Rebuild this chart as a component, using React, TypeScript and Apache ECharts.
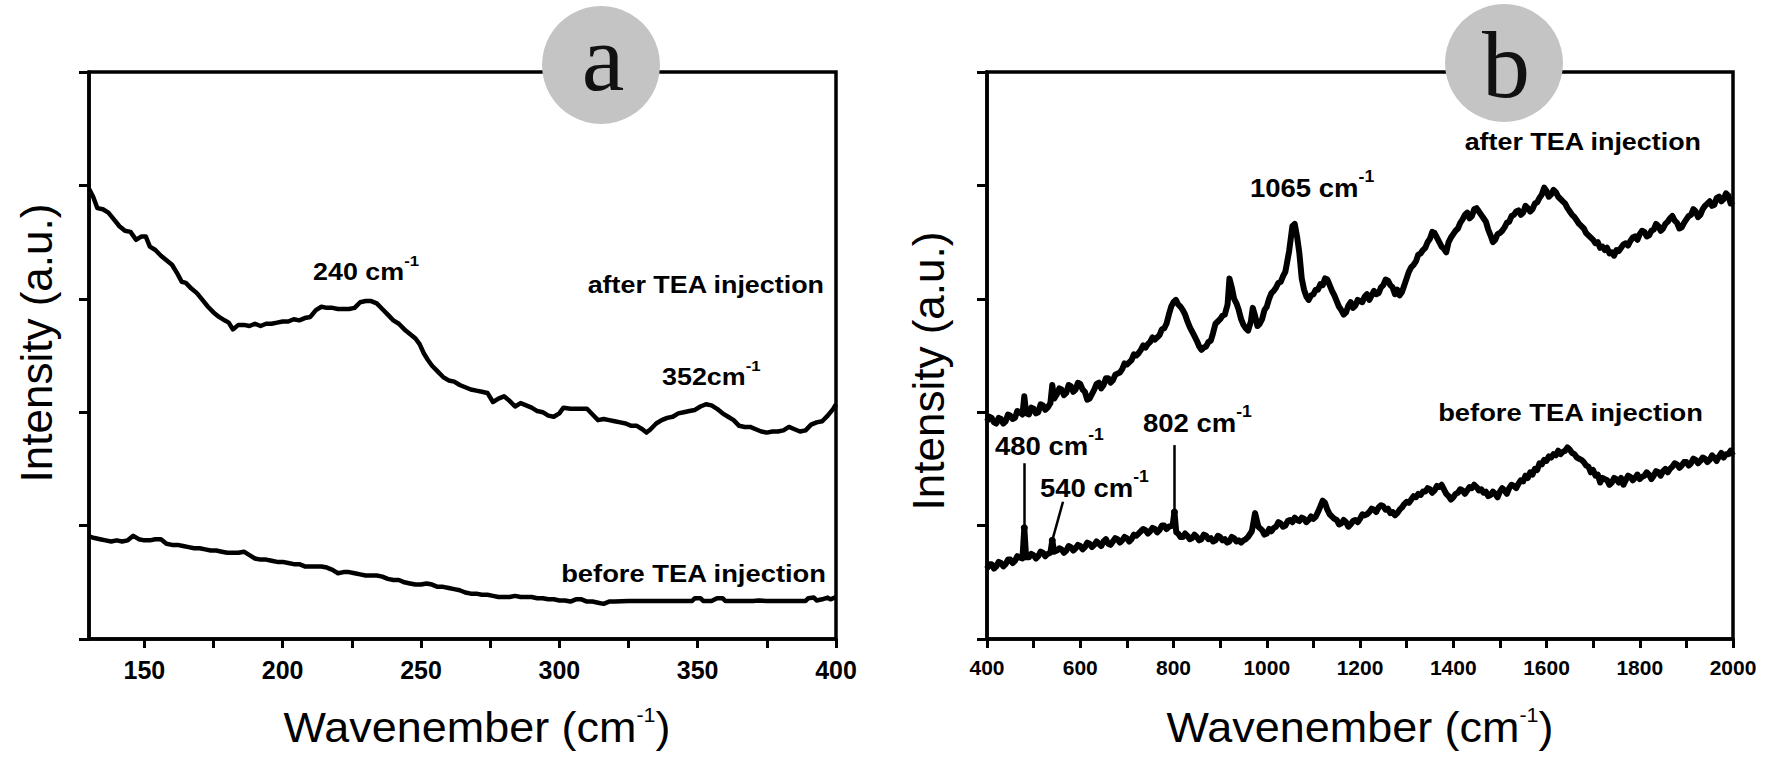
import React, { useEffect, useRef } from "react";
import * as echarts from "echarts";

// ---- panel (a): low-wavenumber Raman spectra ----
const lowAfter: number[][] = [
  [130, 3.97], [131.5, 3.9], [133, 3.8], [135, 3.79], [137, 3.76], [139, 3.7], [141, 3.64], [143, 3.6],
  [145, 3.59], [147, 3.52], [149, 3.55], [150.5, 3.55], [152, 3.46], [154, 3.43], [156, 3.38], [158, 3.34],
  [160, 3.3], [162, 3.22], [163.5, 3.15], [165, 3.14], [167, 3.09], [169, 3.05], [171, 2.99], [173, 2.93],
  [175, 2.88], [177, 2.84], [179, 2.81], [180.5, 2.79], [182, 2.73], [184, 2.77], [186, 2.77], [188, 2.76],
  [190, 2.78], [192, 2.76], [194, 2.78], [196, 2.78], [198, 2.79], [200, 2.8], [202, 2.8], [204, 2.82],
  [206, 2.81], [208, 2.83], [210, 2.84], [212, 2.9], [214, 2.93], [216, 2.92], [218, 2.92], [220, 2.91],
  [222, 2.91], [224, 2.91], [226, 2.92], [228, 2.97], [230, 2.98], [232, 2.98], [234, 2.96], [236, 2.91],
  [238, 2.86], [240, 2.81], [242, 2.78], [244, 2.73], [246, 2.69], [248, 2.65], [249.5, 2.6], [251, 2.52],
  [252.5, 2.46], [254, 2.41], [256, 2.36], [258, 2.31], [260, 2.28], [262, 2.27], [264, 2.24], [266, 2.22],
  [268, 2.2], [270, 2.19], [272, 2.18], [274, 2.17], [276, 2.09], [278, 2.12], [280, 2.14], [282, 2.1],
  [284, 2.05], [286, 2.08], [288, 2.06], [290, 2.04], [292, 2.01], [294, 2.0], [296, 1.97], [298, 1.96],
  [300, 1.99], [301.5, 2.04], [304, 2.03], [306, 2.03], [308, 2.03], [310, 2.03], [312, 1.98], [314, 1.93],
  [316, 1.94], [318, 1.93], [320, 1.92], [322, 1.91], [324, 1.9], [326, 1.88], [328, 1.88], [330, 1.85],
  [331.5, 1.82], [333, 1.85], [335, 1.9], [337, 1.93], [339, 1.95], [341, 1.96], [343, 1.99], [345, 2.0],
  [347, 2.01], [349, 2.02], [351, 2.05], [353, 2.07], [355, 2.06], [357, 2.03], [359, 1.99], [361, 1.96],
  [363, 1.93], [365, 1.88], [367, 1.87], [369, 1.87], [371, 1.85], [373, 1.83], [375, 1.82], [377, 1.83],
  [379, 1.83], [381, 1.84], [383, 1.87], [385, 1.85], [387, 1.83], [389, 1.84], [391, 1.89], [393, 1.91],
  [395, 1.92], [397, 1.97], [399, 2.03], [400, 2.07],
];

const lowBefore: number[][] = [
  [130, 0.905], [132, 0.89], [134, 0.88], [136, 0.87], [138, 0.86], [140, 0.87], [142, 0.86], [144, 0.87],
  [146, 0.91], [148, 0.88], [150, 0.87], [152, 0.87], [154, 0.88], [156, 0.88], [158, 0.84], [160, 0.83],
  [162, 0.83], [164, 0.82], [166, 0.81], [168, 0.8], [170, 0.8], [172, 0.79], [174, 0.78], [176, 0.78],
  [178, 0.77], [180, 0.76], [182, 0.76], [184, 0.76], [186, 0.77], [188, 0.74], [190, 0.71], [192, 0.7],
  [194, 0.7], [196, 0.69], [198, 0.68], [200, 0.68], [202, 0.67], [204, 0.66], [206, 0.66], [208, 0.64],
  [210, 0.64], [212, 0.64], [214, 0.64], [216, 0.63], [218, 0.61], [220, 0.58], [222, 0.59], [224, 0.59],
  [226, 0.58], [228, 0.57], [230, 0.56], [232, 0.56], [234, 0.56], [236, 0.55], [238, 0.53], [240, 0.52],
  [242, 0.52], [244, 0.5], [246, 0.49], [248, 0.48], [250, 0.48], [252, 0.49], [254, 0.48], [256, 0.46],
  [258, 0.46], [260, 0.45], [262, 0.44], [264, 0.43], [266, 0.41], [268, 0.4], [270, 0.4], [272, 0.39],
  [274, 0.39], [276, 0.38], [278, 0.37], [280, 0.37], [282, 0.37], [284, 0.38], [286, 0.37], [288, 0.37],
  [290, 0.37], [292, 0.36], [294, 0.36], [296, 0.35], [298, 0.35], [300, 0.34], [302, 0.34], [304, 0.33],
  [306, 0.35], [308, 0.35], [310, 0.33], [312, 0.33], [314, 0.32], [316, 0.31], [318, 0.33], [320, 0.33],
  [325, 0.335], [330, 0.335], [335, 0.335], [340, 0.335], [345, 0.335], [348, 0.335], [349, 0.36],
  [351, 0.36], [352, 0.335], [355, 0.335], [357, 0.36], [359, 0.36], [360, 0.335], [365, 0.335],
  [370, 0.335], [372, 0.34], [375, 0.335], [380, 0.335], [385, 0.335], [389, 0.335], [390, 0.36],
  [392, 0.365], [393, 0.34], [395, 0.35], [397, 0.365], [398, 0.35], [400, 0.37],
];

// ---- panel (b): full-range Raman spectra ----
const highAfter: number[][] = [
  [400, 1.92], [405, 1.96], [410, 1.95], [415, 1.91], [420, 1.9], [425, 1.95], [430, 1.94], [435, 1.9],
  [440, 1.92], [445, 1.98], [450, 1.97], [455, 1.94], [460, 1.95], [465, 2.01], [470, 2.0], [476, 1.98],
  [480, 2.14], [484, 1.99], [490, 1.98], [495, 2.04], [500, 2.03], [505, 1.99], [510, 2.0], [515, 2.07],
  [520, 2.06], [525, 2.02], [530, 2.04], [536, 2.08], [540, 2.24], [544, 2.12], [550, 2.16], [555, 2.21],
  [560, 2.2], [565, 2.15], [570, 2.17], [575, 2.24], [580, 2.23], [585, 2.18], [590, 2.2], [595, 2.26],
  [600, 2.25], [605, 2.2], [610, 2.18], [615, 2.11], [620, 2.12], [625, 2.16], [630, 2.2], [635, 2.25],
  [640, 2.26], [645, 2.21], [650, 2.24], [655, 2.3], [660, 2.3], [665, 2.26], [670, 2.28], [675, 2.33],
  [680, 2.34], [685, 2.35], [690, 2.38], [695, 2.43], [700, 2.42], [705, 2.44], [710, 2.46], [715, 2.51],
  [720, 2.5], [725, 2.52], [730, 2.55], [735, 2.59], [740, 2.57], [745, 2.6], [750, 2.62], [755, 2.66],
  [760, 2.64], [765, 2.66], [770, 2.68], [775, 2.73], [780, 2.74], [785, 2.78], [790, 2.86], [795, 2.93],
  [800, 2.97], [805, 2.99], [810, 2.95], [815, 2.93], [820, 2.9], [825, 2.86], [830, 2.8], [835, 2.75],
  [840, 2.71], [845, 2.67], [850, 2.63], [855, 2.58], [860, 2.55], [865, 2.57], [870, 2.58], [875, 2.62],
  [880, 2.63], [885, 2.7], [890, 2.78], [895, 2.8], [900, 2.82], [905, 2.85], [910, 2.86], [916, 2.95],
  [920, 3.18], [925, 3.1], [930, 3.0], [935, 2.96], [940, 2.9], [945, 2.82], [950, 2.77], [955, 2.74],
  [960, 2.72], [966, 2.8], [970, 2.92], [975, 2.85], [980, 2.76], [985, 2.78], [990, 2.82], [995, 2.9],
  [1000, 2.93], [1005, 3.0], [1010, 3.05], [1015, 3.07], [1020, 3.1], [1025, 3.14], [1030, 3.15],
  [1035, 3.2], [1040, 3.24], [1048, 3.42], [1055, 3.64], [1060, 3.66], [1065, 3.55], [1070, 3.4],
  [1075, 3.18], [1080, 3.08], [1085, 3.02], [1090, 2.99], [1095, 3.03], [1100, 3.04], [1105, 3.08],
  [1110, 3.08], [1115, 3.13], [1120, 3.12], [1125, 3.18], [1130, 3.17], [1135, 3.12], [1140, 3.07],
  [1145, 3.03], [1150, 2.98], [1155, 2.93], [1160, 2.9], [1165, 2.86], [1170, 2.88], [1175, 2.94],
  [1180, 2.97], [1185, 2.92], [1190, 2.94], [1195, 2.99], [1200, 2.98], [1205, 2.97], [1210, 3.02],
  [1215, 3.04], [1220, 2.99], [1225, 3.03], [1230, 3.07], [1235, 3.04], [1240, 3.05], [1245, 3.1],
  [1250, 3.12], [1255, 3.17], [1260, 3.16], [1265, 3.12], [1270, 3.1], [1275, 3.04], [1280, 3.08],
  [1285, 3.03], [1290, 3.06], [1295, 3.12], [1300, 3.18], [1305, 3.24], [1310, 3.28], [1315, 3.3],
  [1320, 3.33], [1325, 3.39], [1330, 3.4], [1335, 3.43], [1340, 3.45], [1345, 3.5], [1350, 3.53],
  [1355, 3.59], [1360, 3.58], [1365, 3.54], [1370, 3.5], [1375, 3.46], [1380, 3.44], [1385, 3.41],
  [1390, 3.5], [1395, 3.54], [1400, 3.57], [1405, 3.6], [1410, 3.62], [1415, 3.67], [1420, 3.7],
  [1425, 3.74], [1430, 3.76], [1435, 3.71], [1440, 3.73], [1445, 3.79], [1450, 3.8], [1455, 3.77],
  [1460, 3.74], [1465, 3.71], [1470, 3.68], [1475, 3.61], [1480, 3.56], [1485, 3.5], [1490, 3.52],
  [1495, 3.57], [1500, 3.58], [1505, 3.6], [1510, 3.63], [1515, 3.67], [1520, 3.68], [1525, 3.73],
  [1530, 3.74], [1535, 3.77], [1540, 3.78], [1545, 3.74], [1550, 3.76], [1555, 3.82], [1560, 3.8],
  [1565, 3.77], [1570, 3.79], [1575, 3.84], [1580, 3.85], [1585, 3.89], [1590, 3.92], [1595, 3.98],
  [1600, 3.95], [1605, 3.9], [1610, 3.92], [1615, 3.96], [1620, 3.94], [1625, 3.9], [1630, 3.88],
  [1635, 3.86], [1640, 3.84], [1645, 3.8], [1650, 3.77], [1655, 3.74], [1660, 3.72], [1665, 3.69],
  [1670, 3.66], [1675, 3.64], [1680, 3.62], [1685, 3.58], [1690, 3.56], [1695, 3.54], [1700, 3.52],
  [1705, 3.49], [1710, 3.5], [1715, 3.45], [1720, 3.46], [1725, 3.43], [1730, 3.45], [1735, 3.4],
  [1740, 3.41], [1745, 3.38], [1750, 3.43], [1755, 3.42], [1760, 3.45], [1765, 3.48], [1770, 3.49],
  [1775, 3.47], [1780, 3.51], [1785, 3.54], [1790, 3.55], [1795, 3.52], [1800, 3.57], [1805, 3.6],
  [1810, 3.59], [1815, 3.55], [1820, 3.56], [1825, 3.6], [1830, 3.61], [1835, 3.66], [1840, 3.64],
  [1845, 3.6], [1850, 3.62], [1855, 3.66], [1860, 3.68], [1865, 3.71], [1870, 3.73], [1875, 3.69],
  [1880, 3.67], [1885, 3.62], [1890, 3.63], [1895, 3.67], [1900, 3.7], [1905, 3.73], [1910, 3.74],
  [1915, 3.79], [1920, 3.77], [1925, 3.72], [1930, 3.74], [1935, 3.79], [1940, 3.82], [1945, 3.84],
  [1950, 3.86], [1955, 3.82], [1960, 3.83], [1965, 3.89], [1970, 3.9], [1975, 3.86], [1980, 3.88],
  [1985, 3.93], [1990, 3.91], [1995, 3.84], [2000, 3.86],
];

const highBefore: number[][] = [
  [400, 0.62], [405, 0.66], [410, 0.66], [415, 0.62], [420, 0.64], [425, 0.68], [430, 0.67], [435, 0.64],
  [440, 0.66], [445, 0.7], [450, 0.7], [455, 0.67], [460, 0.69], [465, 0.73], [470, 0.72], [476, 0.71],
  [480, 0.98], [484, 0.72], [490, 0.72], [495, 0.75], [500, 0.74], [505, 0.71], [510, 0.73], [515, 0.77],
  [520, 0.76], [525, 0.73], [530, 0.75], [536, 0.76], [540, 0.87], [544, 0.77], [550, 0.78], [555, 0.8],
  [560, 0.79], [565, 0.76], [570, 0.78], [575, 0.82], [580, 0.81], [585, 0.78], [590, 0.8], [595, 0.83],
  [600, 0.82], [605, 0.79], [610, 0.81], [615, 0.85], [620, 0.84], [625, 0.81], [630, 0.83], [635, 0.86],
  [640, 0.84], [645, 0.82], [650, 0.86], [655, 0.88], [660, 0.84], [665, 0.83], [670, 0.86], [675, 0.89],
  [680, 0.88], [685, 0.85], [690, 0.87], [695, 0.9], [700, 0.89], [705, 0.86], [710, 0.88], [715, 0.92],
  [720, 0.91], [725, 0.93], [730, 0.95], [735, 0.97], [740, 0.96], [745, 0.93], [750, 0.95], [755, 0.98],
  [760, 0.97], [765, 0.94], [770, 0.96], [775, 1.0], [780, 1.0], [785, 0.97], [790, 0.99], [798, 1.0],
  [802, 1.12], [806, 0.94], [810, 0.93], [815, 0.9], [820, 0.9], [825, 0.93], [830, 0.91], [835, 0.88],
  [840, 0.89], [845, 0.92], [850, 0.9], [855, 0.87], [860, 0.88], [865, 0.92], [870, 0.91], [875, 0.88],
  [880, 0.89], [885, 0.86], [890, 0.87], [895, 0.91], [900, 0.9], [905, 0.87], [910, 0.88], [915, 0.85],
  [920, 0.86], [925, 0.9], [930, 0.89], [935, 0.86], [940, 0.87], [945, 0.85], [950, 0.87], [955, 0.88],
  [960, 0.9], [968, 0.95], [975, 1.11], [982, 0.99], [990, 0.96], [995, 0.92], [1000, 0.93], [1005, 0.97],
  [1010, 0.95], [1015, 0.98], [1020, 0.99], [1025, 1.03], [1030, 1.02], [1035, 0.99], [1040, 1.0],
  [1045, 1.04], [1050, 1.05], [1055, 1.03], [1060, 1.07], [1065, 1.05], [1070, 1.04], [1075, 1.07],
  [1080, 1.06], [1085, 1.03], [1090, 1.05], [1095, 1.08], [1100, 1.06], [1105, 1.08], [1110, 1.12],
  [1115, 1.17], [1120, 1.22], [1125, 1.2], [1130, 1.14], [1135, 1.1], [1140, 1.08], [1145, 1.06],
  [1150, 1.05], [1155, 1.01], [1160, 1.02], [1165, 1.05], [1170, 1.03], [1175, 0.99], [1180, 1.01],
  [1185, 1.04], [1190, 1.05], [1195, 1.03], [1200, 1.06], [1205, 1.1], [1210, 1.09], [1215, 1.1],
  [1220, 1.12], [1225, 1.15], [1230, 1.14], [1235, 1.12], [1240, 1.16], [1245, 1.18], [1250, 1.17],
  [1255, 1.14], [1260, 1.15], [1265, 1.11], [1270, 1.12], [1275, 1.09], [1280, 1.11], [1285, 1.14],
  [1290, 1.16], [1295, 1.19], [1300, 1.21], [1305, 1.2], [1310, 1.23], [1315, 1.26], [1320, 1.25],
  [1325, 1.28], [1330, 1.27], [1335, 1.3], [1340, 1.3], [1345, 1.33], [1350, 1.32], [1355, 1.29],
  [1360, 1.31], [1365, 1.35], [1370, 1.34], [1375, 1.36], [1380, 1.32], [1385, 1.28], [1390, 1.26],
  [1395, 1.23], [1400, 1.25], [1405, 1.28], [1410, 1.29], [1415, 1.32], [1420, 1.31], [1425, 1.28],
  [1430, 1.31], [1435, 1.34], [1440, 1.33], [1445, 1.36], [1450, 1.34], [1455, 1.31], [1460, 1.32],
  [1465, 1.29], [1470, 1.3], [1475, 1.26], [1480, 1.27], [1485, 1.3], [1490, 1.28], [1495, 1.25],
  [1500, 1.3], [1505, 1.33], [1510, 1.31], [1515, 1.28], [1520, 1.33], [1525, 1.36], [1530, 1.35],
  [1535, 1.33], [1540, 1.37], [1545, 1.4], [1550, 1.39], [1555, 1.44], [1560, 1.42], [1565, 1.47],
  [1570, 1.45], [1575, 1.5], [1580, 1.49], [1585, 1.55], [1590, 1.54], [1595, 1.58], [1600, 1.57],
  [1605, 1.61], [1610, 1.6], [1615, 1.63], [1620, 1.62], [1625, 1.66], [1630, 1.63], [1635, 1.65],
  [1640, 1.66], [1645, 1.69], [1650, 1.67], [1655, 1.64], [1660, 1.63], [1665, 1.6], [1670, 1.59],
  [1675, 1.58], [1680, 1.56], [1685, 1.53], [1690, 1.52], [1695, 1.47], [1700, 1.49], [1705, 1.44],
  [1710, 1.45], [1715, 1.38], [1720, 1.42], [1725, 1.41], [1730, 1.4], [1735, 1.36], [1740, 1.38],
  [1745, 1.42], [1750, 1.41], [1755, 1.38], [1760, 1.42], [1765, 1.36], [1770, 1.4], [1775, 1.44],
  [1780, 1.43], [1785, 1.4], [1790, 1.42], [1795, 1.45], [1800, 1.41], [1805, 1.43], [1810, 1.44],
  [1815, 1.47], [1820, 1.45], [1825, 1.41], [1830, 1.44], [1835, 1.48], [1840, 1.47], [1845, 1.44],
  [1850, 1.48], [1855, 1.5], [1860, 1.47], [1865, 1.5], [1870, 1.52], [1875, 1.55], [1880, 1.54],
  [1885, 1.51], [1890, 1.53], [1895, 1.56], [1900, 1.56], [1905, 1.53], [1910, 1.55], [1915, 1.59],
  [1920, 1.58], [1925, 1.55], [1930, 1.57], [1935, 1.6], [1940, 1.59], [1945, 1.56], [1950, 1.58],
  [1955, 1.62], [1960, 1.6], [1965, 1.57], [1970, 1.61], [1975, 1.64], [1980, 1.6], [1985, 1.63],
  [1990, 1.63], [1995, 1.66], [2000, 1.62],
];

// leader lines from the peak labels down to the peaks: [x1, y1, x2, y2]
const peakPointers: number[][] = [
  [480, 1.55, 480, 0.98],
  [563, 1.21, 540, 0.87],
  [802, 1.71, 802, 1.12],
];

// axis ticks and labels
const lowTicks = [150, 175, 200, 225, 250, 275, 300, 325, 350, 375, 400];
const lowLabels = [150, 200, 250, 300, 350, 400];
const highTicks = [400, 500, 600, 700, 800, 900, 1000, 1100, 1200, 1300, 1400, 1500, 1600, 1700, 1800, 1900, 2000];
const highLabels = [400, 600, 800, 1000, 1200, 1400, 1600, 1800, 2000];

const SANS = "'Liberation Sans', Arial, sans-serif";
const SERIF = "'Liberation Serif', 'Times New Roman', serif";

function supText(
  main: string,
  x: number,
  y: number,
  size: number,
  opts: { align?: string; scaleX?: number; weight?: string } = {}
) {
  const weight = opts.weight ?? "bold";
  return {
    type: "text",
    x,
    y,
    scaleX: opts.scaleX ?? 1,
    z: 60,
    style: {
      text: `{m|${main}}{s|-1}`,
      align: opts.align ?? "left",
      verticalAlign: "middle",
      fill: "#000",
      rich: {
        m: { fontSize: size, fontWeight: weight, fontFamily: SANS, lineHeight: size * 1.55, fill: "#000" },
        s: { fontSize: Math.round(size * 0.62), fontWeight: weight, fontFamily: SANS, lineHeight: Math.round(size * 0.62), verticalAlign: "top", fill: "#000" },
      },
    },
  };
}

function plainText(text: string, x: number, y: number, size: number, align: string, scaleX = 1, weight = "bold") {
  return {
    type: "text",
    x,
    y,
    scaleX,
    z: 60,
    style: { text, align, verticalAlign: "middle", fontSize: size, fontWeight: weight, fontFamily: SANS, fill: "#000" },
  };
}

function badge(letter: string, cx: number, cy: number, ty: number) {
  return [
    { type: "circle", shape: { cx, cy, r: 59 }, style: { fill: "#c4c4c4" }, z: 50 },
    {
      type: "text",
      x: cx + 2,
      y: ty,
      z: 51,
      style: { text: letter, align: "center", verticalAlign: "middle", fontSize: 96, fontFamily: SERIF, fill: "#111" },
    },
  ];
}

function xTitle(cx: number) {
  return {
    type: "text",
    x: cx,
    y: 728,
    scaleX: 1.07,
    z: 60,
    style: {
      text: "{m|Wavenember (cm}{s|-1}{m|)}",
      align: "center",
      verticalAlign: "middle",
      rich: {
        m: { fontSize: 42, fontFamily: SANS, lineHeight: 46, fill: "#000" },
        s: { fontSize: 20, fontFamily: SANS, lineHeight: 20, verticalAlign: "top", fill: "#000" },
      },
    },
  };
}

function yTitle(cx: number, cy: number) {
  return {
    type: "text",
    x: cx,
    y: cy,
    rotation: Math.PI / 2,
    z: 60,
    style: { text: "Intensity (a.u.)", align: "center", verticalAlign: "middle", fontSize: 44, fontFamily: SANS, fill: "#000" },
  };
}

const axisLine = { color: "#000", width: 3.5 };

function xAxisFor(grid: number, min: number, max: number, ticks: number[], labels: number[], fontSize: number) {
  return {
    gridIndex: grid,
    type: "value",
    min,
    max,
    axisLine: { show: true, onZero: false, lineStyle: axisLine },
    axisTick: { show: true, inside: false, length: 9, lineStyle: { color: "#000", width: 3 }, customValues: ticks },
    axisLabel: {
      show: true,
      customValues: labels,
      formatter: (v: number) => String(v),
      fontSize,
      fontWeight: "bold",
      fontFamily: SANS,
      color: "#000",
      margin: 18,
    },
    splitLine: { show: false },
  };
}

function yAxisFor(grid: number) {
  return {
    gridIndex: grid,
    type: "value",
    min: 0,
    max: 5,
    interval: 1,
    axisLine: { show: true, onZero: false, lineStyle: axisLine },
    axisTick: { show: true, inside: false, length: 10, lineStyle: { color: "#000", width: 3 } },
    axisLabel: { show: false },
    splitLine: { show: false },
  };
}

function spectrum(data: number[][], axis: number, width: number, extra: object = {}) {
  return {
    type: "line",
    xAxisIndex: axis,
    yAxisIndex: axis,
    data,
    showSymbol: false,
    symbol: "none",
    lineStyle: { color: "#000", width, join: "round" },
    silent: true,
    ...extra,
  };
}

export default function App() {
  const ref = useRef<HTMLDivElement>(null);

  useEffect(() => {
    if (!ref.current) return;
    const chart = echarts.init(ref.current, undefined, { renderer: "svg" });
    const option = {
      animation: false,
      backgroundColor: "#fff",
      grid: [
        { left: 89, top: 72, width: 747, height: 567, show: true, borderColor: "#000", borderWidth: 3.5, backgroundColor: "transparent" },
        { left: 987, top: 72, width: 746, height: 567, show: true, borderColor: "#000", borderWidth: 3.5, backgroundColor: "transparent" },
      ],
      xAxis: [xAxisFor(0, 130, 400, lowTicks, lowLabels, 25), xAxisFor(1, 400, 2000, highTicks, highLabels, 21)],
      yAxis: [yAxisFor(0), yAxisFor(1)],
      series: [
        spectrum(lowAfter, 0, 4.5),
        spectrum(lowBefore, 0, 4.5),
        spectrum(highAfter, 1, 6),
        spectrum(highBefore, 1, 6, {
          markLine: {
            silent: true,
            symbol: ["none", "circle"],
            symbolSize: 7,
            label: { show: false },
            lineStyle: { color: "#000", width: 2.5, type: "solid" },
            emphasis: { disabled: true },
            data: peakPointers.map((p) => [{ coord: [p[0], p[1]] }, { coord: [p[2], p[3]] }]),
          },
        }),
      ],
      graphic: [
        ...badge("a", 601, 65, 57),
        ...badge("b", 1504, 63, 64),
        xTitle(477),
        xTitle(1360),
        yTitle(36, 343),
        yTitle(928, 371),
        // panel (a) annotations
        supText("240 cm", 313, 272, 24, { scaleX: 1.12 }),
        plainText("after TEA injection", 824, 285, 24, "right", 1.12),
        supText("352cm", 662, 377, 24, { scaleX: 1.12 }),
        plainText("before TEA injection", 826, 574, 24, "right", 1.14),
        // panel (b) annotations
        plainText("after TEA injection", 1701, 142, 24, "right", 1.12),
        supText("1065 cm", 1250, 188, 25, { scaleX: 1.1 }),
        plainText("before TEA injection", 1703, 413, 24, "right", 1.14),
        supText("480 cm", 995, 446, 25, { scaleX: 1.1 }),
        supText("540 cm", 1040, 488, 25, { scaleX: 1.1 }),
        supText("802 cm", 1143, 423, 25, { scaleX: 1.1 }),
      ],
    };
    chart.setOption(option as any);
    return () => chart.dispose();
  }, []);

  return (
    <div style={{ position: "fixed", left: 0, top: 0, width: 1770, height: 760, background: "#fff" }}>
      <div ref={ref} style={{ width: 1770, height: 760 }} />
    </div>
  );
}
